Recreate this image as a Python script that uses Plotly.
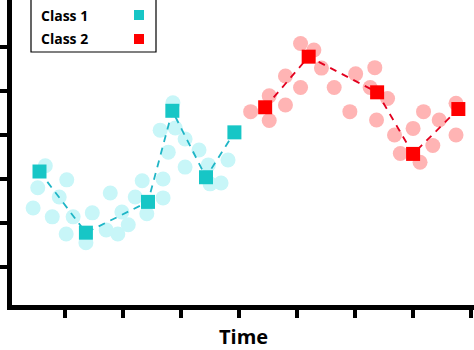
import plotly.graph_objects as go

# ---- data ----
class1_mean_t = [0.56, 1.36, 2.43, 2.85, 3.43, 3.92]
class1_mean_v = [3.17, 1.78, 2.48, 4.55, 3.04, 4.06]
class1_pts_t = [0.66, 1.03, 0.53, 0.90, 0.45, 0.78, 1.14, 1.47, 1.02, 1.36,
                1.78, 1.71, 1.91, 1.98, 2.09, 2.21, 2.33, 2.41, 2.69, 2.69,
                2.64, 2.90, 2.86, 3.07, 2.78, 3.31, 3.07, 3.47, 3.81, 3.50, 3.69]
class1_pts_v = [3.30, 2.98, 2.80, 2.59, 2.34, 2.14, 2.14, 2.23, 1.75, 1.55,
                2.68, 1.84, 1.75, 2.25, 1.96, 2.59, 2.96, 2.21, 3.00, 2.57,
                4.11, 4.16, 4.73, 3.91, 3.61, 3.66, 3.27, 3.32, 3.43, 2.89, 2.91]

class2_mean_t = [4.45, 5.20, 6.38, 7.00, 7.78]
class2_mean_v = [4.63, 5.78, 4.97, 3.57, 4.59]
class2_pts_t = [4.20, 4.52, 4.52, 4.80, 4.80, 5.06, 5.06, 5.29, 5.42, 5.64,
                5.91, 6.01, 6.26, 6.34, 6.37, 6.56, 6.68, 6.78, 7.00, 7.12,
                7.18, 7.34, 7.45, 7.74, 7.74]
class2_pts_v = [4.53, 4.89, 4.33, 5.34, 4.68, 6.08, 5.08, 5.93, 5.52, 5.08,
                4.53, 5.39, 5.08, 5.53, 4.34, 4.83, 4.00, 3.58, 4.15, 3.38,
                4.53, 3.76, 4.34, 4.72, 4.00]

x_ticks = [1, 2, 3, 4, 5, 6, 7, 8]
y_ticks = [1, 2, 3, 4, 5, 6]
series_names = ["Class 1", "Class 2"]
x_title = "Time"

# ---- styling ----
C1_DARK, C1_LIGHT, C1_LINE = "#17C6C6", "#C8F6F8", "#1FB5C6"
C2_DARK, C2_LIGHT, C2_LINE = "#FF0000", "#FFB4B4", "#E2001E"

W, H = 474, 350
ML, MR, MT, MB = 12, 0, 0, 45
PW, PH = W - ML - MR, H - MT - MB

def px_x(p):
    return (p - ML) / PW

def px_y(p):
    return 1 - (p - MT) / PH

groups = [
    (class1_pts_t, class1_pts_v, class1_mean_t, class1_mean_v, C1_DARK, C1_LIGHT, C1_LINE),
    (class2_pts_t, class2_pts_v, class2_mean_t, class2_mean_v, C2_DARK, C2_LIGHT, C2_LINE),
]

fig = go.Figure()
for pts_t, pts_v, mt, mv, dark, light, line in groups:
    fig.add_trace(go.Scatter(x=pts_t, y=pts_v, mode="markers",
                             marker=dict(symbol="circle", size=15, color=light, line=dict(width=0)),
                             showlegend=False, hoverinfo="skip"))
for pts_t, pts_v, mt, mv, dark, light, line in groups:
    fig.add_trace(go.Scatter(x=mt, y=mv, mode="lines",
                             line=dict(color=line, width=1.8, dash="7px,6px"),
                             showlegend=False, hoverinfo="skip"))
    fig.add_trace(go.Scatter(x=mt, y=mv, mode="markers",
                             marker=dict(symbol="square", size=14, color=dark, line=dict(width=0)),
                             showlegend=False))

fig.update_xaxes(range=[0.086, 8.05], tickvals=x_ticks, showticklabels=False,
                 showline=True, linewidth=5, linecolor="black", ticks="outside",
                 ticklen=8, tickwidth=4, tickcolor="black", showgrid=False, zeroline=False)
fig.update_yaxes(range=[0.136, 7.068], tickvals=y_ticks, showticklabels=False,
                 showline=True, linewidth=5, linecolor="black", ticks="outside",
                 ticklen=8, tickwidth=4, tickcolor="black", showgrid=False, zeroline=False)

# manual legend (symbol to the right of the label)
shapes = [dict(type="rect", xref="paper", yref="paper",
               x0=px_x(31), x1=px_x(156), y0=px_y(52), y1=px_y(-5),
               line=dict(color="black", width=1.2), fillcolor="white", layer="above")]
annotations = []
for i, (name, col) in enumerate(zip(series_names, [C1_DARK, C2_DARK])):
    cy = 15 + 24 * i
    shapes.append(dict(type="rect", xref="paper", yref="paper",
                       x0=px_x(134), x1=px_x(144), y0=px_y(cy + 5), y1=px_y(cy - 5),
                       line=dict(width=0), fillcolor=col, layer="above"))
    annotations.append(dict(text=name, xref="paper", yref="paper",
                            x=px_x(39), y=px_y(cy), xanchor="left", yanchor="middle",
                            showarrow=False,
                            font=dict(family="Open Sans", size=14, color="black", weight="bold")))
annotations.append(dict(text=x_title, xref="paper", yref="paper",
                        x=px_x(243), y=px_y(336), xanchor="center", yanchor="middle",
                        showarrow=False,
                        font=dict(family="Open Sans", size=20, color="black", weight="bold")))

fig.update_layout(width=W, height=H, margin=dict(l=ML, r=MR, t=MT, b=MB),
                  plot_bgcolor="white", paper_bgcolor="white",
                  shapes=shapes, annotations=annotations, showlegend=False)

fig.write_html("out.html", config={"displayModeBar": False})
